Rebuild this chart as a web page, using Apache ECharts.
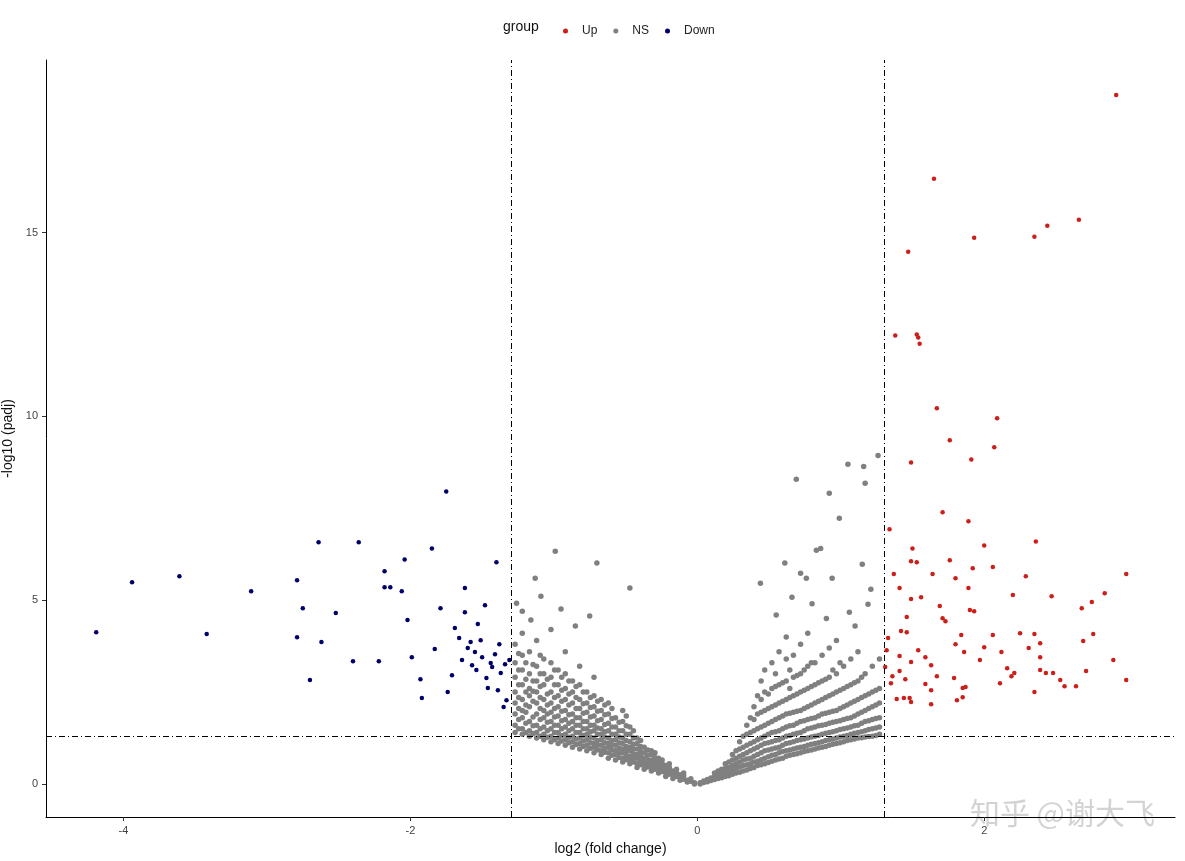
<!DOCTYPE html>
<html><head><meta charset="utf-8">
<script src="https://cdn.jsdelivr.net/npm/echarts@6/dist/echarts.min.js"></script>
<style>html,body{margin:0;background:#fff}#c{width:1185px;height:861px}</style>
</head><body><div id="c"></div>
<script>
const xTicks=[-4,-2,0,2];
const yTicks=[0,5,10,15];
const thresholds={fc:1.3,p:1.301};
const downPts=[[-4.19,4.13],[-3.94,5.49],[-3.61,5.65],[-3.42,4.08],[-3.11,5.24],[-2.79,5.54],[-2.75,4.78],[-2.79,3.99],[-2.70,2.83],[-2.64,6.58],[-2.62,3.86],[-2.52,4.65],[-2.40,3.34],[-2.36,6.58],[-2.22,3.34],[-2.18,5.79],[-2.18,5.35],[-2.14,5.35],[-2.06,5.24],[-2.04,6.11],[-2.02,4.46],[-1.99,3.45],[-1.93,2.85],[-1.92,2.34],[-1.85,6.41],[-1.83,3.67],[-1.79,4.78],[-1.75,7.96],[-1.74,2.50],[-1.71,2.96],[-1.69,4.24],[-1.66,3.97],[-1.64,3.37],[-1.62,5.33],[-1.62,4.67],[-1.60,3.70],[-1.58,3.86],[-1.57,3.23],[-1.55,3.59],[-1.54,3.10],[-1.53,4.35],[-1.51,3.91],[-1.50,3.45],[-1.48,4.86],[-1.47,2.88],[-1.46,2.61],[-1.44,3.29],[-1.43,3.18],[-1.41,3.53],[-1.40,6.03],[-1.39,2.55],[-1.38,3.80],[-1.37,3.02],[-1.35,2.09],[-1.34,3.26],[-1.33,2.28],[-1.31,3.37]];
const upPts=[[2.92,18.75],[1.65,16.47],[2.66,15.35],[2.44,15.19],[1.93,14.86],[2.35,14.89],[1.47,14.48],[1.38,12.20],[1.53,12.23],[1.54,12.15],[1.55,11.98],[1.67,10.22],[2.09,9.95],[2.07,9.16],[1.76,9.35],[1.49,8.75],[1.91,8.83],[1.71,7.39],[1.89,7.15],[1.34,6.93],[2.36,6.60],[1.50,6.41],[2.00,6.49],[1.76,6.09],[1.49,6.06],[1.53,6.03],[1.92,5.87],[2.06,5.90],[2.99,5.71],[1.37,5.71],[1.64,5.71],[2.29,5.65],[1.80,5.60],[1.41,5.33],[1.89,5.33],[2.84,5.19],[2.20,5.14],[2.47,5.11],[1.49,5.03],[1.56,5.08],[2.75,4.95],[1.69,4.84],[2.68,4.78],[1.90,4.73],[1.93,4.70],[1.46,4.54],[1.71,4.51],[1.73,4.43],[1.42,4.16],[1.46,4.13],[2.25,4.10],[2.76,4.08],[1.84,4.05],[2.06,4.05],[2.35,4.08],[1.33,3.97],[2.69,3.89],[1.80,3.80],[2.39,3.83],[2.00,3.72],[2.31,3.70],[1.54,3.64],[1.32,3.64],[1.86,3.59],[2.12,3.59],[1.41,3.48],[1.59,3.45],[2.39,3.45],[2.90,3.37],[1.97,3.37],[1.49,3.32],[1.63,3.23],[1.31,3.18],[2.16,3.15],[1.41,3.07],[2.39,3.10],[2.71,3.07],[2.43,3.02],[2.48,3.02],[2.21,3.02],[2.19,2.93],[1.36,2.93],[1.67,2.93],[2.53,2.83],[1.79,2.88],[2.99,2.83],[1.35,2.74],[1.45,2.85],[1.59,2.72],[2.64,2.66],[2.56,2.66],[2.11,2.74],[1.85,2.61],[1.87,2.64],[1.63,2.55],[2.35,2.50],[1.85,2.36],[1.48,2.34],[1.44,2.34],[1.49,2.23],[1.63,2.17],[1.81,2.28],[1.39,2.31]];
const nsOutliers=[[0.69,8.29],[1.05,8.70],[1.16,8.64],[1.26,8.94],[1.17,8.18],[0.92,7.91],[0.99,7.23],[0.86,6.41],[0.83,6.36],[0.61,6.01],[1.15,5.98],[0.72,5.73],[0.76,5.60],[0.94,5.60],[0.44,5.46],[0.66,5.08],[1.21,5.30],[1.19,4.89],[1.06,4.67],[0.80,4.9],[0.9,4.5],[1.1,4.3],[0.55,4.6],[-0.99,6.33],[-0.70,6.01],[-1.13,5.60],[-0.47,5.33],[-1.09,5.11],[-1.26,4.92],[-0.95,4.76],[-0.75,4.57],[-1.16,4.46],[-0.85,4.3],[-1.22,4.7]];
const nsLeftX=[-1.27,-1.22,-1.17,-1.12,-1.07,-1.02,-0.97,-0.92,-0.87,-0.82,-0.77,-0.72,-0.67,-0.62,-0.57,-0.52,-0.47,-0.42,-0.37,-0.32,-0.27,-0.22,-0.17,-0.12,-0.07,-0.02];
const nsLeftY=[[1.4,1.6,1.9,2.2,2.5,2.9,3.3,3.8],[1.35,1.5,1.8,2.0,2.3,2.7,3.1,3.5,4.1],[1.3,1.45,1.7,2.1,2.4,2.6,3.0,3.6],[1.25,1.4,1.6,1.9,2.2,2.5,2.8,3.2,3.9],[1.2,1.35,1.55,1.8,2.0,2.3,2.7,3.0,3.4],[1.15,1.3,1.5,1.7,1.95,2.2,2.5,2.9,3.3,4.2],[1.1,1.25,1.4,1.6,1.85,2.1,2.4,2.7,3.1],[1.05,1.2,1.35,1.55,1.75,2.0,2.3,2.6,3.0,3.6],[1.0,1.15,1.3,1.5,1.7,1.9,2.2,2.5,2.8],[0.95,1.1,1.25,1.4,1.6,1.8,2.05,2.3,2.7,3.2],[0.9,1.05,1.2,1.35,1.5,1.7,1.95,2.2,2.5],[0.85,1.0,1.1,1.25,1.45,1.6,1.85,2.1,2.4,2.9],[0.8,0.9,1.05,1.2,1.35,1.5,1.75,2.0,2.3],[0.7,0.85,1.0,1.1,1.25,1.45,1.65,1.9,2.2],[0.65,0.8,0.9,1.05,1.2,1.35,1.55,1.8],[0.6,0.7,0.85,0.95,1.1,1.25,1.45,1.7,2.0],[0.55,0.65,0.75,0.9,1.0,1.15,1.35,1.55],[0.45,0.55,0.7,0.8,0.95,1.1,1.25],[0.4,0.5,0.6,0.7,0.85,1.0],[0.35,0.45,0.55,0.65,0.8,0.9],[0.3,0.4,0.5,0.6,0.7],[0.2,0.3,0.4,0.5],[0.15,0.25,0.35],[0.1,0.18,0.25],[0.05,0.1],[0.0,0.03]];
const nsLeftX2=[-1.245,-1.195,-1.145,-1.095,-1.045,-0.995,-0.945,-0.895,-0.845,-0.795,-0.745,-0.695,-0.645,-0.595,-0.545,-0.495,-0.445,-0.395,-0.345,-0.295,-0.245,-0.195,-0.145,-0.095,-0.045];
const nsLeftY2=[[1.5,1.75,2.05,2.35,2.7,3.1,3.55],[1.4,1.65,1.95,2.15,2.5,2.85,3.3],[1.37,1.58,1.82,2.25,2.52,2.8,3.25],[1.3,1.5,1.75,2.05,2.35,2.65,3.0,3.5],[1.27,1.45,1.68,1.9,2.15,2.45,2.85],[1.2,1.4,1.6,1.82,2.05,2.35,2.7,3.1],[1.17,1.32,1.5,1.72,1.98,2.25,2.55,2.9],[1.12,1.27,1.45,1.65,1.88,2.15,2.45,2.8],[1.07,1.22,1.4,1.6,1.8,2.05,2.35,2.65],[1.02,1.17,1.32,1.5,1.7,1.92,2.18,2.5],[0.97,1.12,1.27,1.42,1.6,1.82,2.08,2.35],[0.92,1.05,1.18,1.35,1.52,1.72,1.98,2.25],[0.86,0.98,1.12,1.28,1.42,1.62,1.88,2.15],[0.78,0.92,1.05,1.18,1.35,1.55,1.78,2.05],[0.72,0.85,0.98,1.12,1.28,1.45,1.68],[0.66,0.78,0.9,1.02,1.18,1.35,1.58,1.85],[0.6,0.7,0.82,0.95,1.08,1.25,1.45],[0.52,0.62,0.75,0.88,1.02,1.18],[0.46,0.55,0.65,0.78,0.92],[0.4,0.5,0.6,0.72,0.85],[0.34,0.45,0.55,0.65],[0.26,0.35,0.45,0.55],[0.2,0.3,0.4],[0.13,0.22,0.3],[0.07,0.14]];
const nsRightX=[0.02,0.07,0.12,0.17,0.22,0.27,0.32,0.37,0.42,0.47,0.52,0.57,0.62,0.67,0.72,0.77,0.82,0.87,0.92,0.97,1.02,1.07,1.12,1.17,1.22,1.27];
const nsRightY=[[0.0,0.03],[0.06,0.12],[0.12,0.2,0.3],[0.17,0.27,0.4],[0.22,0.33,0.45,0.6],[0.3,0.42,0.55,0.7,0.9],[0.35,0.5,0.65,0.8,1.0,1.3],[0.42,0.55,0.7,0.9,1.1,1.4,1.8],[0.5,0.62,0.8,1.0,1.2,1.5,1.9,2.4],[0.55,0.7,0.9,1.1,1.3,1.6,2.0,2.5,3.1],[0.62,0.78,0.95,1.15,1.4,1.7,2.1,2.6,3.3],[0.68,0.85,1.0,1.2,1.45,1.8,2.2,2.7,3.6],[0.75,0.9,1.1,1.3,1.55,1.9,2.3,2.8,3.4,4.0],[0.8,0.95,1.15,1.35,1.6,1.95,2.4,2.9,3.5],[0.85,1.0,1.2,1.4,1.7,2.0,2.5,3.0,3.8],[0.9,1.05,1.25,1.5,1.75,2.1,2.6,3.2,4.1],[0.95,1.1,1.3,1.55,1.8,2.2,2.7,3.3],[1.0,1.15,1.35,1.6,1.9,2.3,2.8,3.5],[1.05,1.2,1.4,1.65,1.95,2.4,2.9,3.7],[1.1,1.25,1.45,1.7,2.0,2.5,3.0,3.9],[1.15,1.3,1.5,1.75,2.1,2.6,3.2],[1.2,1.35,1.55,1.8,2.2,2.7,3.4],[1.25,1.4,1.6,1.9,2.3,2.8,3.6],[1.28,1.45,1.7,2.0,2.4,3.0],[1.3,1.5,1.75,2.1,2.5,3.2],[1.35,1.55,1.8,2.2,2.6,3.4]];
const nsRightX2=[0.045,0.095,0.145,0.195,0.245,0.295,0.345,0.395,0.445,0.495,0.545,0.595,0.645,0.695,0.745,0.795,0.845,0.895,0.945,0.995,1.045,1.095,1.145,1.195,1.245];
const nsRightY2=[[0.04,0.08],[0.09,0.16],[0.15,0.24,0.35],[0.2,0.3,0.42,0.55],[0.26,0.38,0.5,0.65,0.8],[0.32,0.46,0.6,0.75,0.95,1.15],[0.38,0.52,0.68,0.85,1.05,1.35,1.6],[0.45,0.6,0.75,0.95,1.15,1.45,1.75,2.1],[0.52,0.66,0.85,1.05,1.25,1.55,1.95,2.3,2.8],[0.58,0.74,0.92,1.12,1.35,1.65,2.05,2.45],[0.65,0.8,0.98,1.18,1.42,1.75,2.15,2.65,3.0],[0.7,0.88,1.05,1.25,1.5,1.85,2.25,2.75],[0.78,0.92,1.12,1.32,1.58,1.92,2.35,2.6,3.1],[0.82,0.98,1.18,1.38,1.65,1.98,2.45,2.95],[0.88,1.02,1.22,1.45,1.72,2.05,2.55,3.1],[0.92,1.08,1.28,1.52,1.78,2.15,2.65,3.3],[0.98,1.12,1.32,1.58,1.85,2.25,2.75],[1.02,1.18,1.38,1.62,1.92,2.35,2.85],[1.08,1.22,1.42,1.68,1.98,2.45,3.1],[1.12,1.28,1.48,1.72,2.05,2.55,3.3],[1.18,1.32,1.52,1.78,2.15,2.65],[1.22,1.38,1.58,1.85,2.25,2.75],[1.26,1.42,1.65,1.95,2.35,2.9],[1.29,1.48,1.72,2.05,2.45],[1.32,1.52,1.78,2.15,2.55]];
const nsPts=nsOutliers.slice();
[[nsLeftX,nsLeftY],[nsLeftX2,nsLeftY2],[nsRightX,nsRightY],[nsRightX2,nsRightY2]].forEach(([xs,ys])=>xs.forEach((x,i)=>ys[i].forEach(y=>nsPts.push([x,y]))));

const ch=echarts.init(document.getElementById('c'));
const dash={color:'#000',width:1,type:[6,3,1,3]};
ch.setOption({
  animation:false,
  legend:{top:20,left:558,itemWidth:5,itemHeight:5,itemGap:16,icon:'circle',textStyle:{fontSize:12,color:'#222',fontFamily:'Liberation Sans',padding:[0,0,0,9]},data:['Up','NS','Down']},
  graphic:[{type:'text',left:503,top:20,style:{text:'group',fontSize:14,fill:'#111',fontFamily:'Liberation Sans'}},
           {type:'text',right:30,top:798,style:{text:'知乎 @谢大飞',fontSize:30,fill:'rgba(200,200,200,0.8)',fontFamily:'Noto Sans CJK SC'}}],
  grid:{left:46,right:10,top:60,bottom:44,outerBoundsMode:'none'},
  xAxis:{type:'value',min:-4.54,max:3.33,name:'log2 (fold change)',nameLocation:'middle',nameGap:25,
    nameTextStyle:{fontSize:14,color:'#111',fontFamily:'Liberation Sans'},splitLine:{show:false},
    axisLine:{onZero:false,lineStyle:{color:'#000'}},axisTick:{customValues:xTicks,length:4,lineStyle:{color:'#333'}},
    axisLabel:{customValues:yTicks.length?xTicks:xTicks,color:'#444',fontSize:11}},
  yAxis:{type:'value',min:-0.9,max:19.7,name:'-log10 (padj)',nameLocation:'middle',nameGap:12,
    nameTextStyle:{fontSize:14,color:'#111',fontFamily:'Liberation Sans'},splitLine:{show:false},
    axisLine:{show:true,onZero:false,lineStyle:{color:'#000'}},axisTick:{show:true,customValues:yTicks,length:4,lineStyle:{color:'#333'}},
    axisLabel:{customValues:yTicks,color:'#444',fontSize:11}},
  series:[
    {name:'NS',type:'scatter',data:nsPts,symbolSize:5.5,itemStyle:{color:'#808080',opacity:1},
     markLine:{silent:true,symbol:'none',label:{show:false},lineStyle:dash,
       data:[{xAxis:-thresholds.fc},{xAxis:thresholds.fc},{yAxis:thresholds.p}]}},
    {name:'Up',type:'scatter',data:upPts,symbolSize:4.5,itemStyle:{color:'#cc1f1a',opacity:1}},
    {name:'Down',type:'scatter',data:downPts,symbolSize:4.5,itemStyle:{color:'#00006b',opacity:1}}
  ]
});
</script></body></html>
